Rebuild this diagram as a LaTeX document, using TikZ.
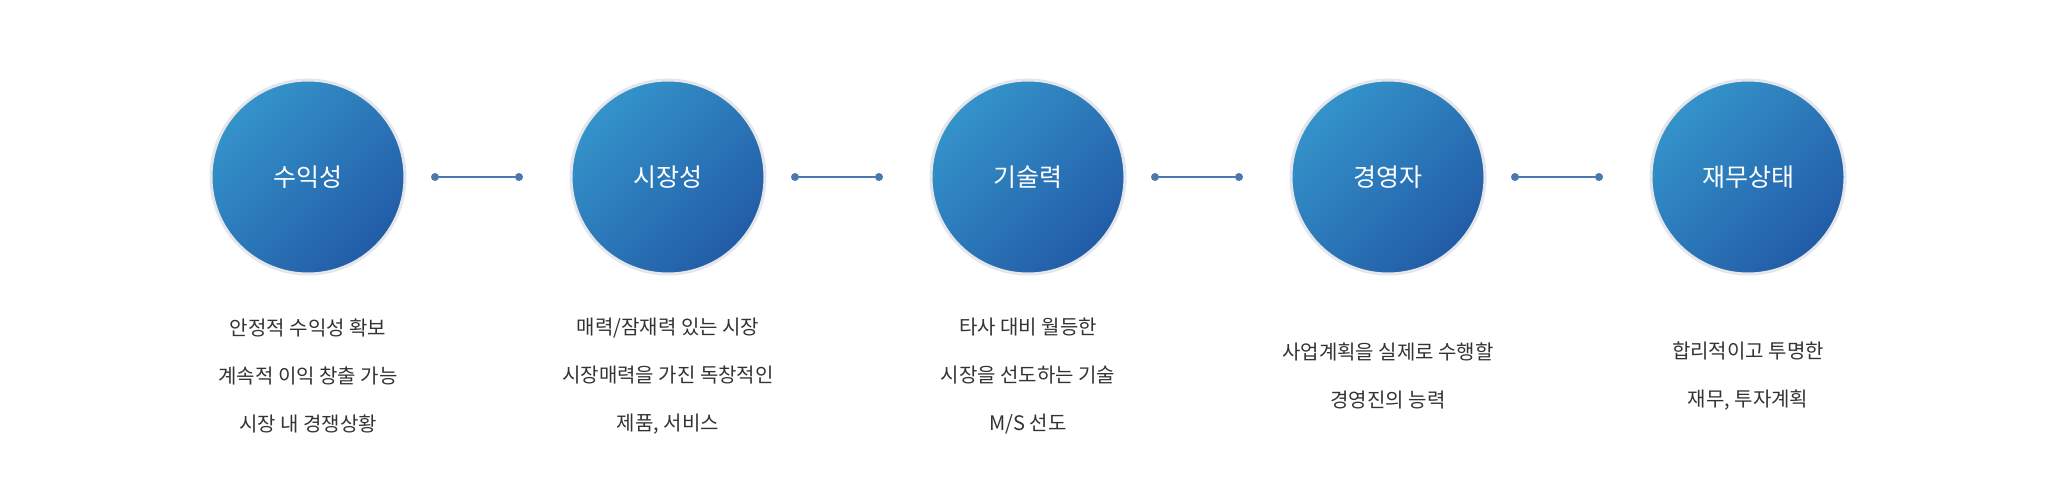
\documentclass[tikz,border=0pt]{standalone}
\usepackage{fontspec}
\newfontfamily\krfont{Noto Sans CJK KR}
\usetikzlibrary{positioning}
\begin{document}
\begin{tikzpicture}[x=1pt, y=-1pt]
  % Colors
  \definecolor{blank}{HTML}{ffffff}
  \definecolor{lightblue}{HTML}{3493ca}
  \definecolor{darkblue}{HTML}{225ca7}
  \definecolor{rim}{HTML}{e4e6ea}
  \definecolor{line}{HTML}{4a78b0}
  \definecolor{body}{HTML}{333333}

  % Configurations
  \tikzset{
    ball/.style={circle, minimum size=194pt, inner sep=0pt,
      left color=lightblue, right color=darkblue, shading angle=45,
      draw=rim, line width=3pt, text=blank,
      font=\krfont\fontsize{25}{30}\selectfont},
    desc/.style={align=center, text=body,
      font=\krfont\fontsize{20}{48}\selectfont},
    link/.style={draw=line, line width=1.6pt},
    tip/.style={fill=line, circle, inner sep=0pt, minimum size=8pt}
  }

  % Bounding box
  \useasboundingbox (0,0) rectangle (2048,484);

  % Balls
  \node [ball] (profit) at (308,177) {수익성};
  \node [ball] (market) at (668,177) {시장성};
  \node [ball] (tech)   at (1028,177) {기술력};
  \node [ball] (ceo)    at (1388,177) {경영자};
  \node [ball] (fin)    at (1748,177) {재무상태};

  % Links
  \foreach \a/\b in {profit/pm, market/mt, tech/tc, ceo/cf} {
    \coordinate (\b-l) at ([xshift=127pt]\a.center);
    \coordinate (\b-r) at ([xshift=211pt]\a.center);
    \draw [link] (\b-l) -- (\b-r);
    \node [tip] at (\b-l) {};
    \node [tip] at (\b-r) {};
  }

  % Descriptions
  \node [desc] (profit-d) at (308,376) {안정적 수익성 확보\\계속적 이익 창출 가능\\시장 내 경쟁상황};
  \node [desc] (market-d) at (668,376) {매력/잠재력 있는 시장\\시장매력을 가진 독창적인\\제품, 서비스};
  \node [desc] (tech-d) at (1028,376) {타사 대비 월등한\\시장을 선도하는 기술\\M/S 선도};
  \node [desc] (ceo-d) at (1388,376) {사업계획을 실제로 수행할\\경영진의 능력};
  \node [desc] (fin-d) at (1748,376) {합리적이고 투명한\\재무, 투자계획};
\end{tikzpicture}
\end{document}
